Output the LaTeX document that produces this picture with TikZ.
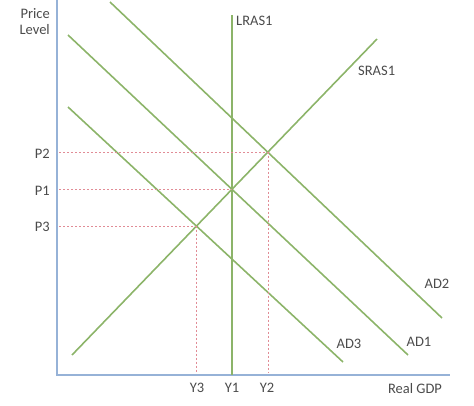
\documentclass[tikz,border=0pt]{standalone}
\usepackage{fontspec}
\setmainfont{Carlito}
\definecolor{curve}{RGB}{140,180,105}
\definecolor{axis}{RGB}{150,178,215}
\definecolor{guide}{RGB}{225,140,150}
\definecolor{txt}{RGB}{75,75,75}
\begin{document}
\begin{tikzpicture}[x=1pt,y=-1pt,
  curveline/.style={draw=curve,line width=1.6pt},
  axisline/.style={draw=axis,line width=1.6pt},
  guideline/.style={draw=guide,line width=0.9pt,dash pattern=on 2pt off 2pt},
  lbl/.style={text=txt,font=\fontsize{14.5}{16}\selectfont,inner sep=0pt}]
\useasboundingbox (0,0) rectangle (474,405);
% axes
\coordinate (O) at (57,375);
\coordinate (ytop) at (57,0);
\coordinate (xend) at (450,375);
\draw[axisline] (ytop) -- (O) -- (xend);
% curves
\coordinate (lras-top) at (232,15);
\coordinate (lras-bot) at (232,375);
\coordinate (sras-a) at (72,355);
\coordinate (sras-b) at (377,39);
\coordinate (ad1-a) at (68,35);
\coordinate (ad1-b) at (408,355);
\coordinate (ad2-a) at (110,2);
\coordinate (ad2-b) at (442,318);
\coordinate (ad3-a) at (68,107);
\coordinate (ad3-b) at (343,362);
\draw[curveline] (lras-top) -- (lras-bot);
\draw[curveline] (sras-a) -- (sras-b);
\draw[curveline] (ad1-a) -- (ad1-b);
\draw[curveline] (ad2-a) -- (ad2-b);
\draw[curveline] (ad3-a) -- (ad3-b);
% equilibria
\coordinate (e2) at (268,152.5);
\coordinate (e1) at (232,189);
\coordinate (e3) at (196,226.5);
\coordinate (p2a) at (59,152.5);
\coordinate (p1a) at (59,189);
\coordinate (p3a) at (59,226.5);
\coordinate (y2a) at (268,373);
\coordinate (y3a) at (196,373);
\draw[guideline] (p2a) -- (e2) -- (y2a);
\draw[guideline] (p1a) -- (e1);
\draw[guideline] (p3a) -- (e3) -- (y3a);
% labels
\node[lbl,align=right,anchor=east] (plevel) at (50,22) {Price\\Level};
\node[lbl,anchor=east] (p2) at (50,154) {P2};
\node[lbl,anchor=east] (p1) at (50,191) {P1};
\node[lbl,anchor=east] (p3) at (50,227) {P3};
\node[lbl] (y3) at (197,388) {Y3};
\node[lbl] (y1) at (232,388) {Y1};
\node[lbl] (y2) at (267,388) {Y2};
\node[lbl] (rgdp) at (415,389) {Real GDP};
\node[lbl,anchor=west] (lras) at (236,21) {LRAS1};
\node[lbl,anchor=west] (sras) at (358,71) {SRAS1};
\node[lbl] (ad2) at (437,284) {AD2};
\node[lbl] (ad1) at (419,342) {AD1};
\node[lbl] (ad3) at (349,344) {AD3};
\end{tikzpicture}
\end{document}
